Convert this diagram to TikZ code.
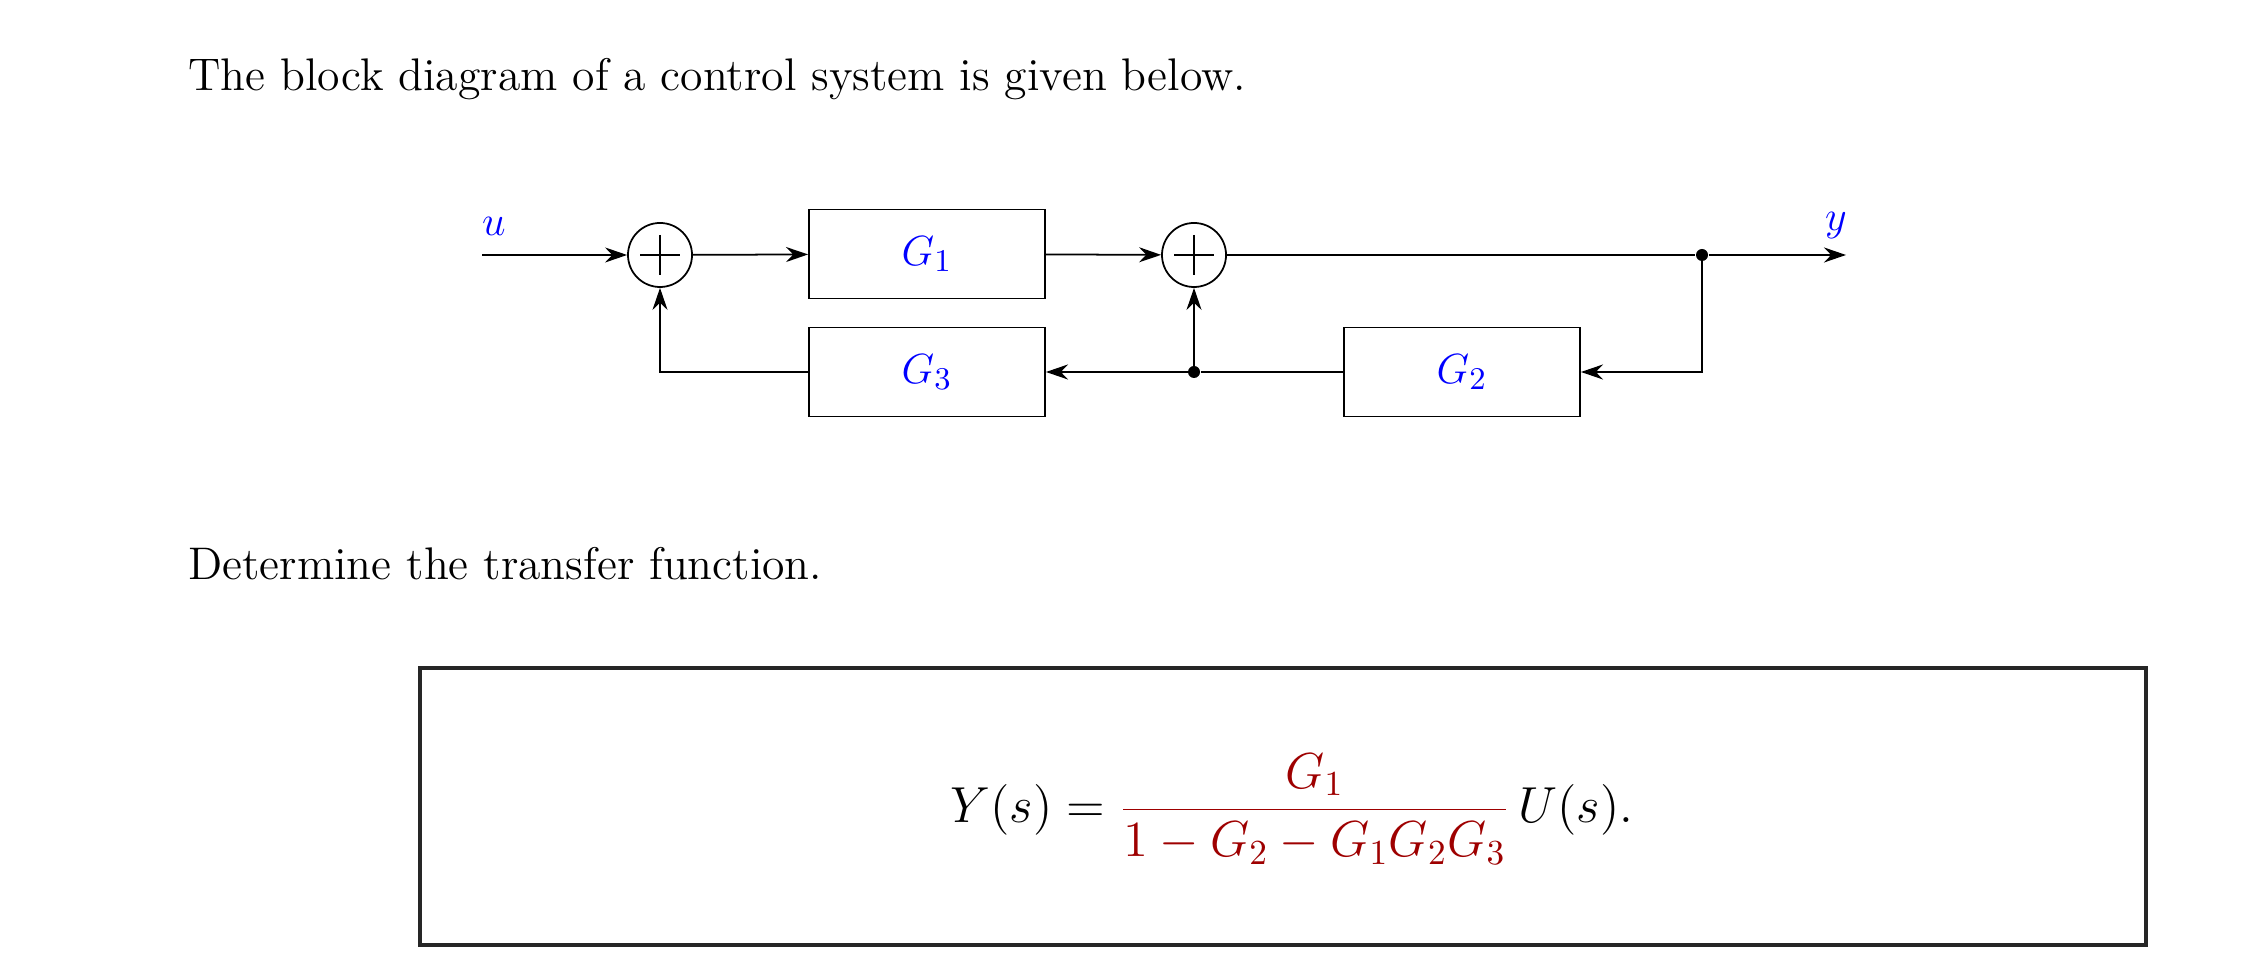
\documentclass[tikz,border=0pt]{standalone}
\usetikzlibrary{arrows.meta}
\begin{document}
\begin{tikzpicture}[x=0.01cm,y=-0.01cm,font=\fontsize{13}{15}\selectfont,
  blk/.style={draw,line width=0.5pt,minimum width=2.36cm,minimum height=0.89cm,inner sep=0pt,text=blue},
  sumc/.style={draw,circle,line width=0.5pt,minimum size=0.64cm,inner sep=0pt},
  arr/.style={line width=0.5pt,-{Stealth[length=2.2mm,width=1.5mm]}},
  ln/.style={line width=0.5pt},
  dotc/.style={circle,fill,inner sep=0pt,minimum size=1.2mm}]
\useasboundingbox (0,0) rectangle (2258,974);
\node[anchor=west] (t1) at (176,79) {The block diagram of a control system is given below.};
\node[anchor=west] (t2) at (176,564) {Determine the transfer function.};
\coordinate (in) at (482,255);
\node[text=blue] (u) at (494,226) {$u$};
\node[sumc] (s1) at (660,255) {};
\draw[ln] (s1.center)+(-20,0) -- +(20,0);
\draw[ln] (s1.center)+(0,-20) -- +(0,20);
\node[blk] (g1) at (927,254) {$G_1$};
\node[sumc] (s2) at (1194,255) {};
\draw[ln] (s2.center)+(-20,0) -- +(20,0);
\draw[ln] (s2.center)+(0,-20) -- +(0,20);
\node[dotc] (d1) at (1702,255) {};
\coordinate (out) at (1846,255);
\node[text=blue] (y) at (1836,226) {$y$};
\node[blk] (g3) at (927,372) {$G_3$};
\node[blk] (g2) at (1462,372) {$G_2$};
\node[dotc] (d2) at (1194,372) {};
\draw[arr] (in) -- (s1);
\draw[arr] (s1) -- (g1);
\draw[arr] (g1) -- (s2);
\draw[ln] (s2) -- (d1);
\draw[arr] (d1) -- (out);
\draw[arr] (d1.center) |- (g2.east);
\draw[ln] (g2) -- (d2);
\draw[arr] (d2.center) -- (s2);
\draw[arr] (d2.center) -- (g3);
\draw[arr] (g3.west) -| (s1);
\draw[line width=1.3pt,black!85] (420,668) rectangle (2146,945);
\node (eq) at (1292,809) {\fontsize{14}{16}\selectfont$\displaystyle Y(s)=\color[rgb]{0.62,0,0}\frac{G_1}{1-G_2-G_1G_2G_3}\,\color{black}U(s).$};
\end{tikzpicture}
\end{document}
